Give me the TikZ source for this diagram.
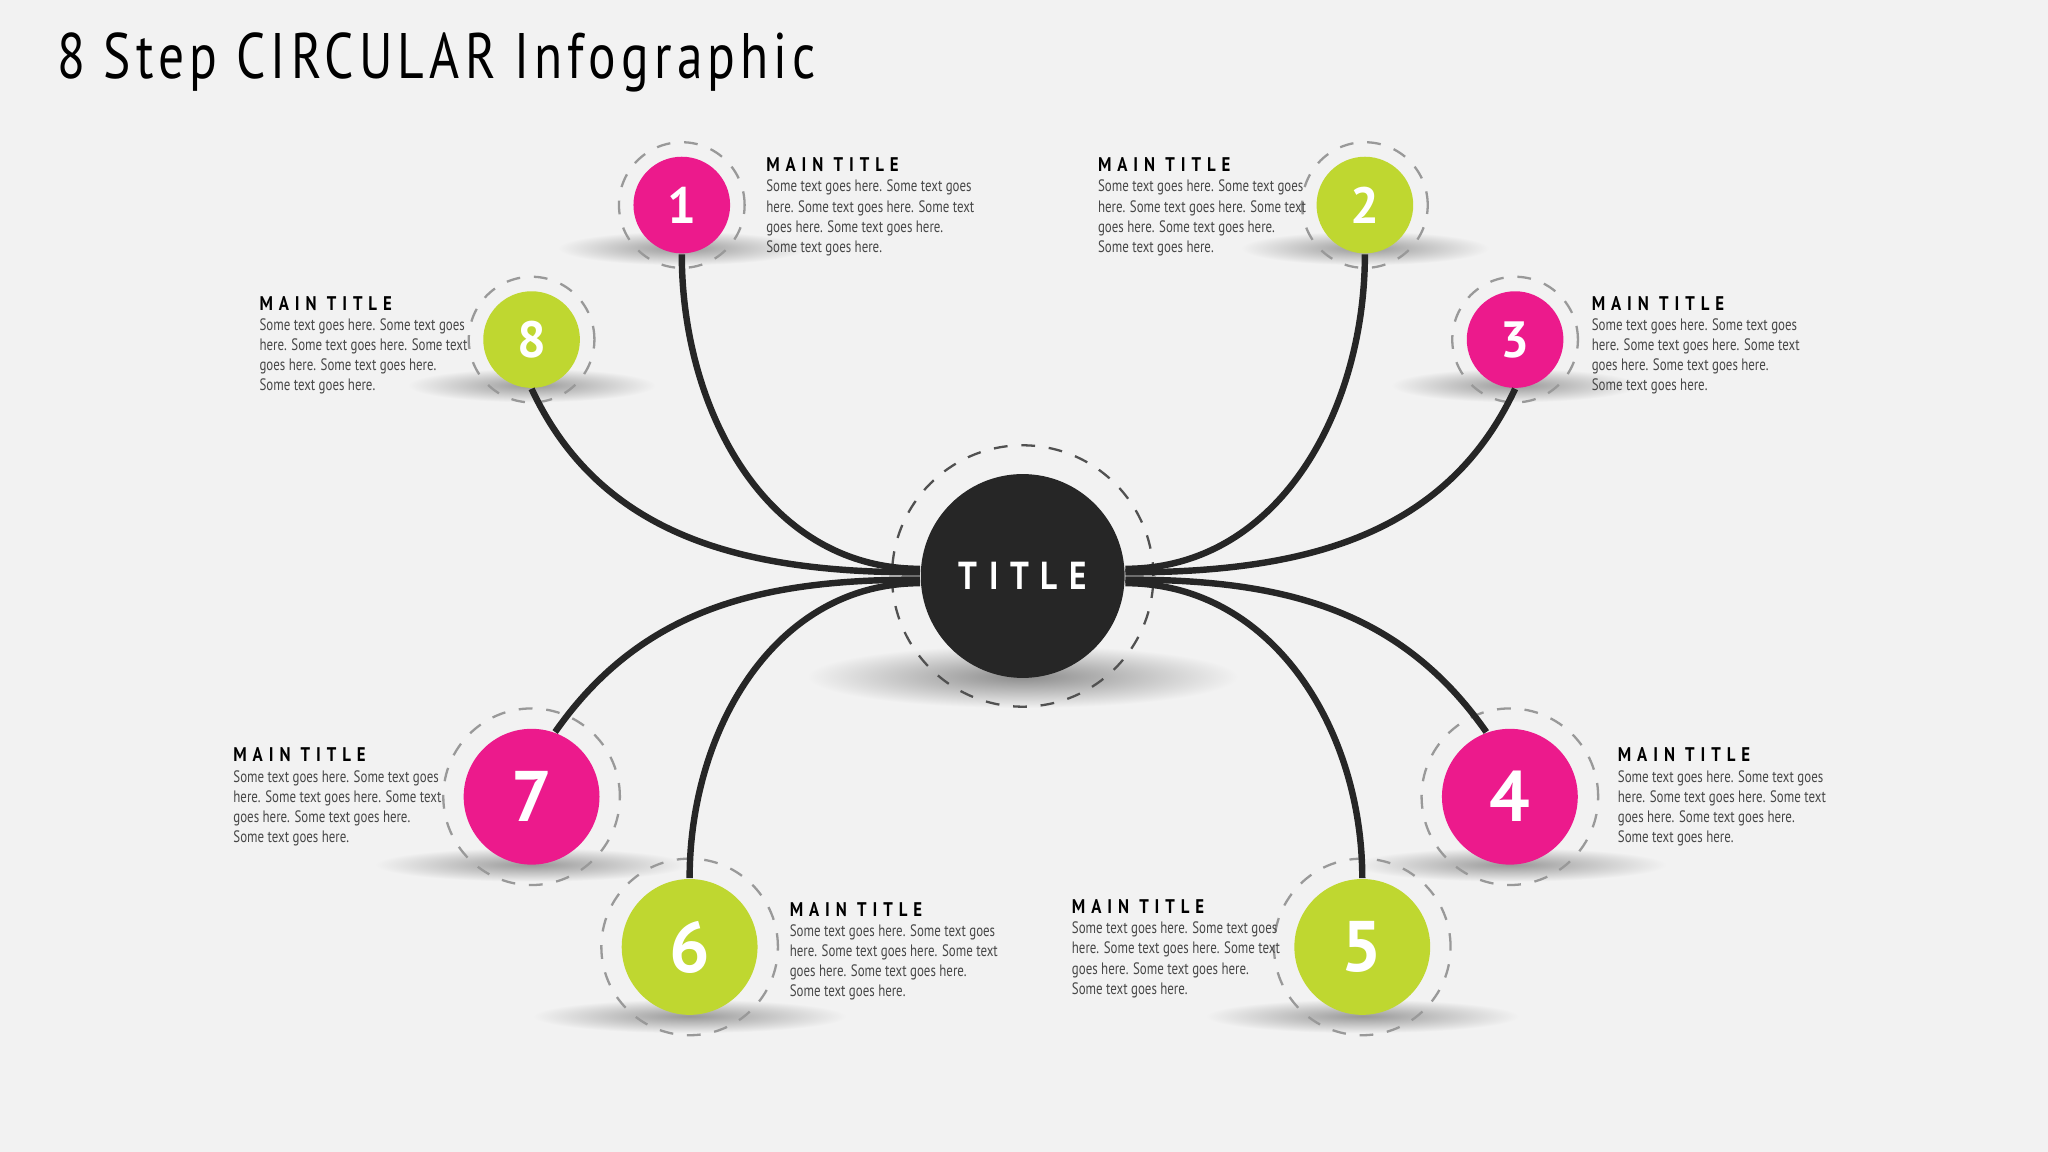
\documentclass[tikz,border=0pt]{standalone}
\usepackage{fontspec}
\setmainfont{PT Sans}
\newfontfamily\cond[FakeStretch=0.78]{PT Sans}
\newfontfamily\spaced[LetterSpace=30,FakeStretch=0.85]{PT Sans}
\newfontfamily\headfont[LetterSpace=8,FakeStretch=0.8]{PT Sans}
\usetikzlibrary{calc}

\definecolor{bgc}{HTML}{F2F2F2}
\definecolor{pinkc}{HTML}{EC1A8C}
\definecolor{limec}{HTML}{BFD730}
\definecolor{darkc}{HTML}{262626}

\newcommand{\bodylines}{Some text goes here. Some text goes\\here. Some text goes here. Some text\\goes here. Some text goes here.\\Some text goes here.}

\tikzset{
  ball/.style={circle, inner sep=0, text=white, font=\bfseries},
  ring/.style={draw=gray!80, dashed, line width=0.5pt},
  link/.style={draw=darkc, line width=1.4pt},
  heading/.style={anchor=north west, inner sep=0, font=\spaced\bfseries\fontsize{4.3}{5}\selectfont},
  body/.style={anchor=north west, inner sep=0, align=left, text=darkc!85, font=\cond\fontsize{3.6}{4.4}\selectfont}
}

\begin{document}
\begin{tikzpicture}[x=0.01cm, y=-0.01cm]
    \fill[bgc] (0,0) rectangle (1568,882);
    \useasboundingbox (0,0) rectangle (1568,882);

    \node[anchor=west, inner sep=0, font=\headfont\fontsize{14}{16}\selectfont] (head) at (43,48) {8 Step CIRCULAR Infographic};

    % shadows
    \shade[inner color=black!45, outer color=bgc] (783,518) ellipse [x radius=165*0.01cm, y radius=24*0.01cm];
    \foreach \x/\y/\rx in {522/190/95, 1045/190/95, 1160/295/95, 407/295/95,
                           407/662/120, 1156/662/120, 528/778/120, 1043/778/120} {
        \shade[inner color=black!40, outer color=bgc] (\x,\y) ellipse [x radius=\rx*0.01cm, y radius=0.13cm];
    }

    % hub
    \draw[ring, draw=darkc!80] (783,441) circle [radius=1cm];
    \node[ball, fill=darkc, minimum size=1.56cm, font=\spaced\bfseries\fontsize{8.5}{10}\selectfont] (hub) at (783,441) {TITLE};

    % steps
    \foreach \n/\x/\y/\r/\c in {1/522/157/37/pinkc, 2/1045/157/37/limec,
                                3/1160/260/37/pinkc, 8/407/260/37/limec,
                                7/407/610/52/pinkc, 4/1156/610/52/pinkc,
                                6/528/725/52/limec, 5/1043/725/52/limec} {
        \pgfmathsetmacro{\rr}{\r*1.3*0.01}
        \pgfmathsetmacro{\fs}{\r*0.3}
        \draw[ring] (\x,\y) circle [radius=\rr cm];
        \node[ball, fill=\c, minimum size=2*\r*0.01cm, font=\bfseries\fontsize{\fs}{\fs}\selectfont] (s\n) at (\x,\y) {\n};
    }

    % connectors
    \draw[link] (s1.south) to[out=-90, in=180] (hub.176);
    \draw[link] (s8.south) to[out=-65, in=180] (hub.178);
    \draw[link] (s7.70) to[out=55, in=180] (hub.182);
    \draw[link] (s6.north) to[out=90, in=180] (hub.184);
    \draw[link] (s2.south) to[out=-90, in=0] (hub.4);
    \draw[link] (s3.south) to[out=-115, in=0] (hub.2);
    \draw[link] (s4.110) to[out=125, in=0] (hub.-2);
    \draw[link] (s5.north) to[out=90, in=0] (hub.-4);

    % texts
    \foreach \n/\x/\y in {1/586/120, 2/840/120, 3/1218/226, 8/198/226,
                          7/178/572, 4/1238/572, 6/604/690, 5/820/688} {
        \node[heading] (h\n) at (\x,\y) {MAIN TITLE};
        \node[body] (t\n) at ($(h\n.south west)+(0,5)$) {\bodylines};
    }
\end{tikzpicture}
\end{document}
